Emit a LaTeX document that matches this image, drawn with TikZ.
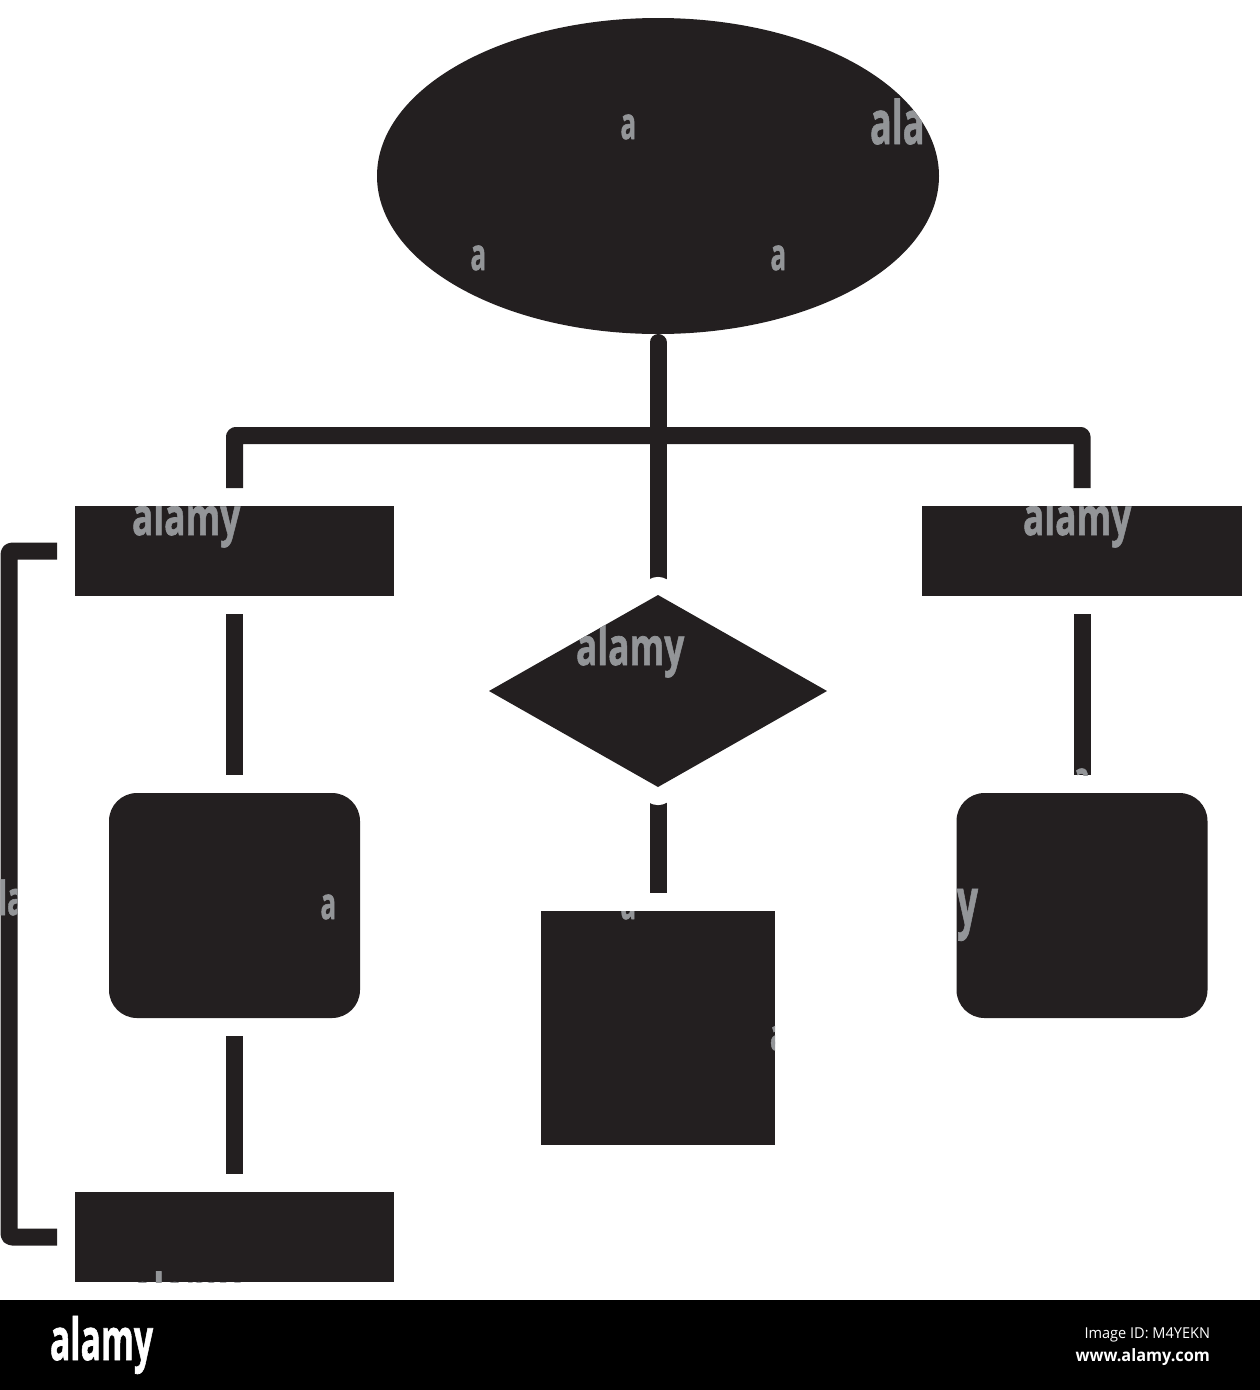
\documentclass[tikz,border=0pt]{standalone}
\usepackage{fontspec}
\setmainfont{Open Sans}
\newfontfamily\heavy[BoldFeatures={FakeBold=1.3}]{Open Sans}
\usetikzlibrary{shapes.geometric}
\pgfdeclarelayer{background}
\pgfsetlayers{background,main}
\definecolor{ink}{HTML}{231F20}
\definecolor{mark}{HTML}{939598}
\tikzset{
  solid shape/.style={fill=ink,draw=none,inner sep=0pt,outer sep=0pt},
  boxshape/.style={solid shape,rectangle,minimum width=#1,minimum height=90pt},
  softbox/.style={solid shape,rectangle,rounded corners=28pt,minimum width=251pt,minimum height=225pt},
  conn/.style={draw=ink,line width=17pt,line join=round,rounded corners=1pt},
  gap/.style={shorten <=18pt,shorten >=18pt},
  foot/.style={text=white,inner sep=0pt,outer sep=0pt}
}
% position, text, name, font size, horizontal scale
\newcommand{\wmk}[5]{\node[text=mark,inner sep=0pt,outer sep=0pt,anchor=base west,xscale=#5,font=\fontsize{#4}{#4}\selectfont\heavy\bfseries] (#3) at (#1) {#2};}
\begin{document}
\begin{tikzpicture}[x=1pt,y=-1pt]
\useasboundingbox (0,0) rectangle (1260,1390);
\node[solid shape,ellipse,minimum width=562pt,minimum height=316pt] (root) at (658,176) {};
\node[boxshape=319pt] (lb) at (234.5,551) {};
\node[boxshape=320pt] (rb) at (1082,551) {};
\node[boxshape=319pt] (bb) at (234.5,1237) {};
\node[softbox] (ls) at (234.5,905.5) {};
\node[softbox] (rs) at (1082,905.5) {};
\node[solid shape,rectangle,minimum width=234pt,minimum height=234pt] (sq) at (658,1028) {};
\coordinate (bus) at (658,435.5);
\coordinate (rail) at (9,900);
\begin{pgfonlayer}{background}
  \draw[conn,line cap=round,shorten <=8.5pt] (root.south) -- (658,691);
  \draw[conn,gap] (lb.north) |- (bus) -| (rb.north);
  \draw[conn,gap] (lb.south) -- (ls.north);
  \draw[conn,gap] (rb.south) -- (rs.north);
  \draw[conn,gap] (ls.south) -- (bb.north);
  \draw[conn,shorten >=18pt] (658,691) -- (sq.north);
  \draw[conn,shorten <=18pt,shorten >=18pt,rounded corners=3pt] (lb.west) -| (rail) |- (bb.west);
\end{pgfonlayer}
\node[solid shape,diamond,minimum width=338pt,minimum height=192pt,preaction={draw=white,line width=36pt,line join=round}] (dec) at (658,691) {};
% stock-library marks, visible only inside the dark shapes
\begin{scope}\clip (658,176) ellipse (281 and 158);
  \wmk{620.5,139}{a}{m1}{44}{.59}\wmk{870,144}{ala}{m2}{60}{.6}\wmk{470.5,270}{a}{m3}{44}{.59}\wmk{770.5,270}{a}{m4}{44}{.59}
\end{scope}
\begin{scope}\clip (lb.south west) rectangle (lb.north east);\wmk{132,535}{alamy}{m5}{52}{.68}\end{scope}
\begin{scope}\clip (rb.south west) rectangle (rb.north east);\wmk{1023,535}{alamy}{m6}{52}{.68}\end{scope}
\begin{scope}\clip (bb.south west) rectangle (bb.north east);\wmk{132,1311}{alamy}{m7}{52}{.68}\end{scope}
\begin{scope}\clip (489,691) -- (658,595) -- (827,691) -- (658,787) -- cycle;\wmk{576,665}{alamy}{m8}{52}{.68}\end{scope}
\begin{scope}\clip (ls.south west) rectangle (ls.north east);\wmk{320.5,919}{a}{m9}{44}{.59}\end{scope}
\begin{scope}\clip (rs.south west) rectangle (rs.north east);\wmk{957,925}{y}{m10}{66}{.56}\end{scope}
\begin{scope}\clip (sq.south west) rectangle (sq.north east);\wmk{620.5,919}{a}{m11}{44}{.59}\wmk{770,1050}{a}{m12}{44}{.59}\end{scope}
\begin{scope}\clip (0.5,860) rectangle (17.5,940);\wmk{-1.5,915}{la}{m13}{47}{.6}\end{scope}
\begin{scope}\clip (1073.5,760) rectangle (1090.5,775.5);\wmk{1074,793}{a}{m14}{44}{.59}\end{scope}
% footer
\node[fill=black,inner sep=0pt,outer sep=0pt,minimum width=1260pt,minimum height=90pt] (bar) at (630,1345) {};
\node[foot,anchor=base west,xscale=.58,font=\fontsize{58}{58}\selectfont\heavy\bfseries] (logo) at (50,1360) {alamy};
\node[foot,anchor=base east,xscale=.97,font=\fontsize{15}{16}\selectfont] (imgid) at (1210,1338) {Image ID: M4YEKN};
\node[foot,anchor=base east,xscale=.96,font=\fontsize{17}{18}\selectfont\bfseries] (site) at (1210,1361) {www.alamy.com};
\end{tikzpicture}
\end{document}
